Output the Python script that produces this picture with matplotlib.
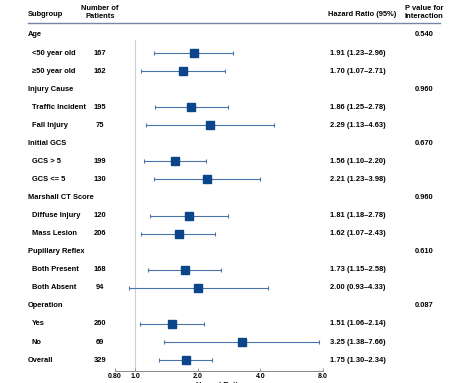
import matplotlib
matplotlib.use("Agg")
import matplotlib.pyplot as plt
import numpy as np

plt.rcParams['font.family'] = ['Liberation Sans', 'DejaVu Sans']

# ---- data ----
row_labels = ["Age", "<50 year old", "≥50 year old",
              "Injury Cause", "Traffic Incident", "Fall Injury",
              "Initial GCS", "GCS > 5", "GCS <= 5",
              "Marshall CT Score", "Diffuse Injury", "Mass Lesion",
              "Pupillary Reflex", "Both Present", "Both Absent",
              "Operation", "Yes", "No",
              "Overall"]
is_group = [True, False, False, True, False, False, True, False, False,
            True, False, False, True, False, False, True, False, False, True]
patients = ["", "167", "162", "", "195", "75", "", "199", "130",
            "", "120", "206", "", "168", "94", "", "260", "69", "329"]
hr = [None, 1.91, 1.70, None, 1.86, 2.29, None, 1.56, 2.21,
      None, 1.81, 1.62, None, 1.73, 2.00, None, 1.51, 3.25, 1.75]
lo = [None, 1.23, 1.07, None, 1.25, 1.13, None, 1.10, 1.23,
      None, 1.18, 1.07, None, 1.15, 0.93, None, 1.06, 1.38, 1.30]
hi = [None, 2.96, 2.71, None, 2.78, 4.63, None, 2.20, 3.98,
      None, 2.78, 2.43, None, 2.58, 4.33, None, 2.14, 7.66, 2.34]
pvals = ["0.540", "", "", "0.960", "", "", "0.670", "", "",
         "0.960", "", "", "0.610", "", "", "0.087", "", "", ""]
xticks = [0.8, 1.0, 2.0, 4.0, 8.0]
xticklabels = ["0.80", "1.0", "2.0", "4.0", "8.0"]

W, H = 474, 383
fig = plt.figure(figsize=(W / 100, H / 100), dpi=100)

def fx(px):
    return px / W

def fy(py):
    return 1 - py / H

# axes placement (pixels)
ax_left, ax_right = 115, 323
ax_top, ax_bot = 28, 371
ax = fig.add_axes([fx(ax_left), fy(ax_bot), fx(ax_right) - fx(ax_left),
                   (ax_bot - ax_top) / H])

row0_px, row_step = 35, 18.06
n = len(row_labels)
top_row = -(row0_px - ax_top) / row_step
bot_row = (ax_bot - row0_px) / row_step
ax.set_ylim(bot_row, top_row)
ax.set_xscale('log')
ax.set_xlim(0.8, 8.0)

mk_col = '#0b458a'
ln_col = '#4a74aa'
fs = 5.4

ys = np.arange(n)
for i in range(n):
    if hr[i] is None:
        continue
    ax.errorbar(hr[i], ys[i], xerr=[[hr[i] - lo[i]], [hi[i] - hr[i]]],
                fmt='none', ecolor=ln_col, elinewidth=0.8, capsize=1.6,
                capthick=0.8, zorder=2)
    ax.plot(hr[i], ys[i], marker='s', ms=6, color=mk_col, mec=mk_col,
            zorder=3, clip_on=False)

# reference line at 1
ax.plot([1.0, 1.0], [top_row + (40 - ax_top) / row_step, bot_row],
        color='#d0d0d0', lw=0.8, zorder=1)

for s in ['top', 'right', 'left']:
    ax.spines[s].set_visible(False)
ax.spines['bottom'].set_color('#888888')
ax.spines['bottom'].set_linewidth(0.7)
ax.set_yticks([])
ax.set_xticks(xticks)
ax.set_xticklabels(xticklabels, fontsize=fs - 0.4, fontweight='bold')
ax.xaxis.set_minor_locator(matplotlib.ticker.NullLocator())
ax.tick_params(axis='x', direction='in', length=2.0, width=0.6,
               color='#888888', pad=1.2)
ax.set_xlabel("Hazard Ratio", fontsize=fs, fontweight='bold', labelpad=1.5)
ax.patch.set_alpha(0)

# row texts
trans_rows = matplotlib.transforms.blended_transform_factory(fig.transFigure, ax.transData)
for i in range(n):
    x_lab = 28 if is_group[i] else 32
    ax.text(fx(x_lab), ys[i], row_labels[i], transform=trans_rows,
            fontsize=fs, fontweight='bold', ha='left', va='center')
    if patients[i]:
        ax.text(fx(100), ys[i], patients[i], transform=trans_rows,
                fontsize=fs, fontweight='bold', ha='center', va='center')
    if hr[i] is not None:
        ax.text(fx(330), ys[i], f"{hr[i]:.2f} ({lo[i]:.2f}\u2013{hi[i]:.2f})",
                transform=trans_rows, fontsize=fs, fontweight='bold',
                ha='left', va='center')
    if pvals[i]:
        ax.text(fx(424), ys[i], pvals[i], transform=trans_rows,
                fontsize=fs, fontweight='bold', ha='center', va='center')

# header
fig.text(fx(28), fy(15), "Subgroup", fontsize=fs, fontweight='bold',
         ha='left', va='center')
fig.text(fx(100), fy(12.5), "Number of\nPatients", fontsize=fs,
         fontweight='bold', ha='center', va='center', linespacing=1.1)
fig.text(fx(328), fy(15), "Hazard Ratio (95%)", fontsize=fs,
         fontweight='bold', ha='left', va='center')
fig.text(fx(424), fy(12.5), "P value for\nInteraction", fontsize=fs,
         fontweight='bold', ha='center', va='center', linespacing=1.1)
fig.add_artist(plt.Line2D([fx(28), fx(440)], [fy(23), fy(23)],
                          color='#7486a6', lw=1.0, transform=fig.transFigure))

fig.savefig("out.png", dpi=100)
